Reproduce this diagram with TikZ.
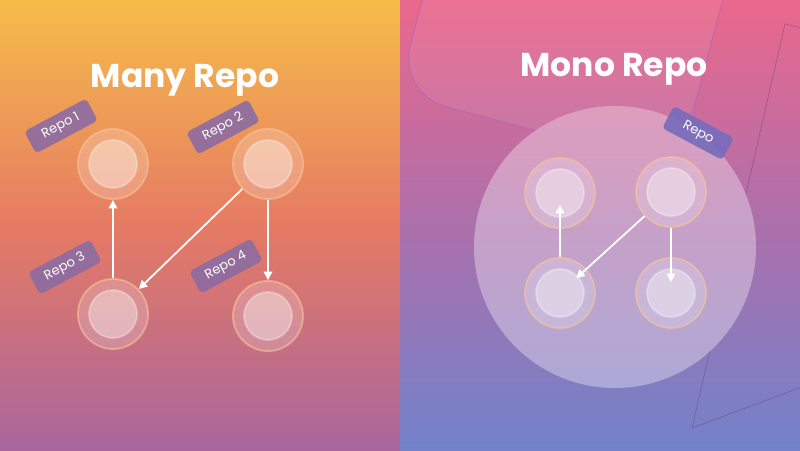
\documentclass[tikz,border=0pt]{standalone}
\usepackage{fontspec}
\setmainfont{Poppins}
\usetikzlibrary{arrows.meta}
\definecolor{LT}{RGB}{246,188,74}
\definecolor{LM}{RGB}{230,122,100}
\definecolor{LB}{RGB}{168,102,158}
\definecolor{RT}{RGB}{234,104,140}
\definecolor{RM}{RGB}{172,112,172}
\definecolor{RB}{RGB}{114,130,202}
\definecolor{lblL}{RGB}{140,108,162}
\definecolor{lblR}{RGB}{118,108,188}
\definecolor{ringc}{RGB}{250,196,150}
\definecolor{decoline}{RGB}{150,96,200}
\definecolor{thinline}{RGB}{110,70,140}
\begin{document}
\begin{tikzpicture}[x=1pt,y=-1pt,
  outerc/.style={circle, minimum size=70pt, inner sep=0pt, fill=white, fill opacity=0.2, draw=ringc, draw opacity=0.6, line width=1.8pt},
  innerc/.style={circle, minimum size=48pt, inner sep=0pt, fill=white, fill opacity=0.36, draw=white, draw opacity=0.3, line width=1.8pt},
  lbl/.style={rounded corners=4pt, fill opacity=0.9, text opacity=1, text=white, font=\fontsize{13}{13}\selectfont, minimum width=70pt, minimum height=25pt, inner sep=0pt},
  arr/.style={draw=white, line width=1.8pt, -{Triangle[width=8.5pt,length=8.5pt]}},
  title/.style={text=white, font=\bfseries\fontsize{33}{33}\selectfont, anchor=base, inner sep=0pt}]
\useasboundingbox (0,0) rectangle (800,450);
% backgrounds as stripes
\foreach \i in {0,...,149} {
  \pgfmathsetmacro\yy{\i*3}
  \pgfmathsetmacro\p{min(100,\i/75*100)}
  \pgfmathsetmacro\r{100-max(0,(\i-75)/75*100)}
  \fill[LM!\p!LT!\r!LB] (0,\yy) rectangle (400,\yy+3.6);
  \fill[RM!\p!RT!\r!RB] (400,\yy) rectangle (800,\yy+3.6);
}
% decorations right (hidden behind the big circle)
\begin{scope}[even odd rule]
\clip (400,0) rectangle (800,450) (615,247) circle (141);
\node[rotate=-15, minimum width=290pt, minimum height=290pt, rounded corners=50pt, fill=white, fill opacity=0.07, draw=decoline, draw opacity=0.5, line width=0.8pt] (deco) at (575,-9) {};
\coordinate (p1) at (785,24);
\coordinate (p2) at (692,428);
\coordinate (p3) at (810,384);
\coordinate (p4) at (810,30);
\draw[thinline, draw opacity=0.6, line width=0.6pt] (p4) -- (p1) -- (p2) -- (p3);
\end{scope}
% big circle
\node[circle, minimum size=282pt, inner sep=0pt, fill=white, fill opacity=0.34] (big) at (615,247) {};
% titles
\node[title] (t1) at (185,87) {Many Repo};
\node[title] (t2) at (614,76) {Mono Repo};
% left nodes
\node[outerc] (a1) at (113,164) {};
\node[outerc] (a2) at (268,164) {};
\node[outerc] (a3) at (113,314) {};
\node[outerc] (a4) at (268,316) {};
\foreach \n in {a1,a2,a3,a4} \node[innerc] at (\n) {};
\node[lbl, fill=lblL, rotate=28] (l1) at (61,126) {Repo 1};
\node[lbl, fill=lblL, rotate=28] (l2) at (223,127) {Repo 2};
\node[lbl, fill=lblL, rotate=28] (l3) at (65,267) {Repo 3};
\node[lbl, fill=lblL, rotate=28] (l4) at (226,266) {Repo 4};
\draw[arr] (a3) -- (a1);
\draw[arr] (a2) -- (a3);
\draw[arr] (a2) -- (a4);
% mono nodes
\node[outerc] (m1) at (560,193) {};
\node[outerc] (m2) at (671,192) {};
\node[outerc] (m3) at (560,293) {};
\node[outerc] (m4) at (671,293) {};
\foreach \n in {m1,m2,m3,m4} \node[innerc] at (\n) {};
\node[lbl, fill=lblR, rotate=-28, minimum width=68pt] (lr) at (698,133) {Repo};
\draw[arr, shorten >=-24pt] (m3) -- (m1);
\draw[arr, shorten >=-14pt] (m2) -- (m3);
\draw[arr, shorten >=-25pt] (m2) -- (m4);
\end{tikzpicture}
\end{document}
